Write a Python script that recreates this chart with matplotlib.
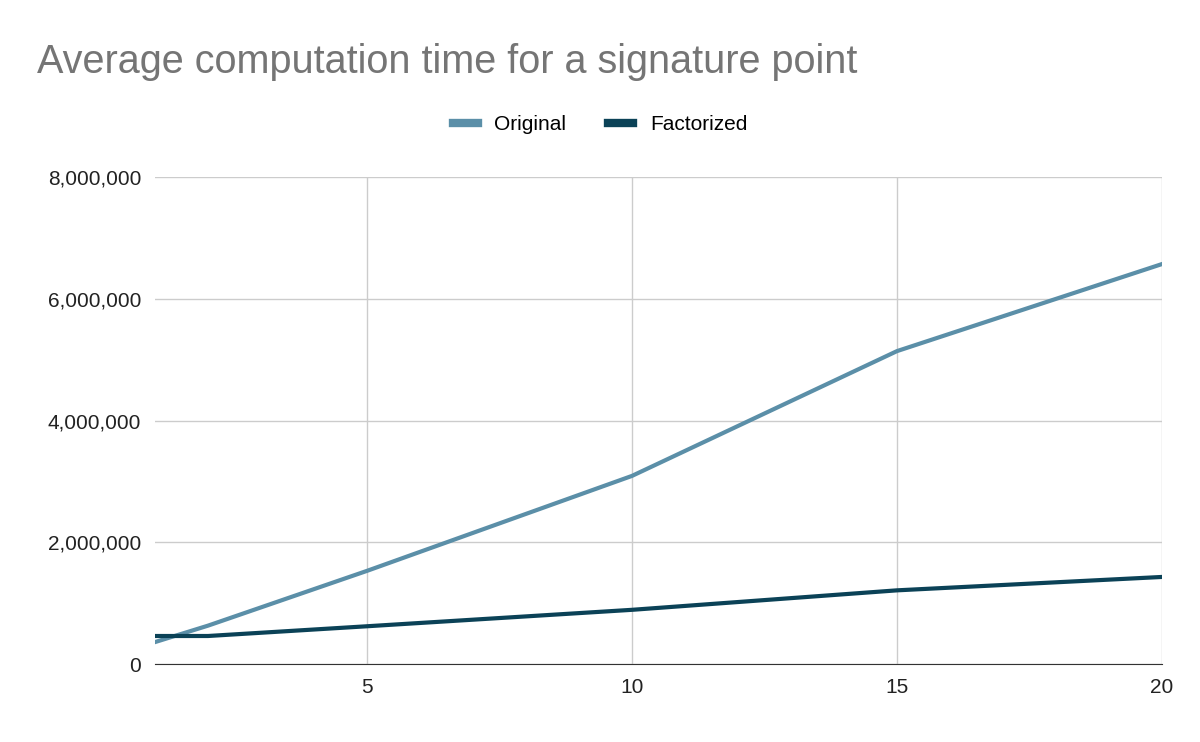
import matplotlib
matplotlib.use("Agg")
import matplotlib.pyplot as plt
from matplotlib.ticker import FuncFormatter

x = [1, 2, 5, 10, 15, 20]
original = [360000, 630000, 1530000, 3090000, 5140000, 6570000]
factorized = [460000, 460000, 620000, 890000, 1210000, 1430000]

plt.rcParams['font.family'] = ['Arial', 'Liberation Sans', 'DejaVu Sans']
fig = plt.figure(figsize=(12, 7.42), dpi=100)
ax = fig.add_axes([155/1200, 1-664/742, (1162-155)/1200, (664-177)/742])
ax.plot(x, original, color='#5b8fa8', lw=3, label='Original')
ax.plot(x, factorized, color='#0b4257', lw=3, label='Factorized')
ax.set_xlim(1, 20)
ax.set_ylim(0, 8000000)
ax.set_xticks([5, 10, 15, 20])
ax.set_yticks(range(0, 8000001, 2000000))
ax.yaxis.set_major_formatter(FuncFormatter(lambda v, p: f"{int(v):,}"))
ax.grid(True, color='#cccccc', lw=1)
for s in ['top', 'right', 'left']:
    ax.spines[s].set_visible(False)
ax.spines['bottom'].set_color('#333333')
ax.tick_params(length=0, labelsize=15, colors='#222222', pad=10)
ax.set_axisbelow(True)
fig.text(37/1200, 1-62/742, 'Average computation time for a signature point',
         fontsize=28.5, color='#757575', va='center')
fig.legend(loc='center', bbox_to_anchor=(0.5, 1-124/742), ncol=2, frameon=False,
           fontsize=15, handlelength=1.2, handleheight=0.4, columnspacing=2)
for l in fig.legends[0].get_lines():
    l.set_linewidth(6)
fig.savefig('out.png', dpi=100)
